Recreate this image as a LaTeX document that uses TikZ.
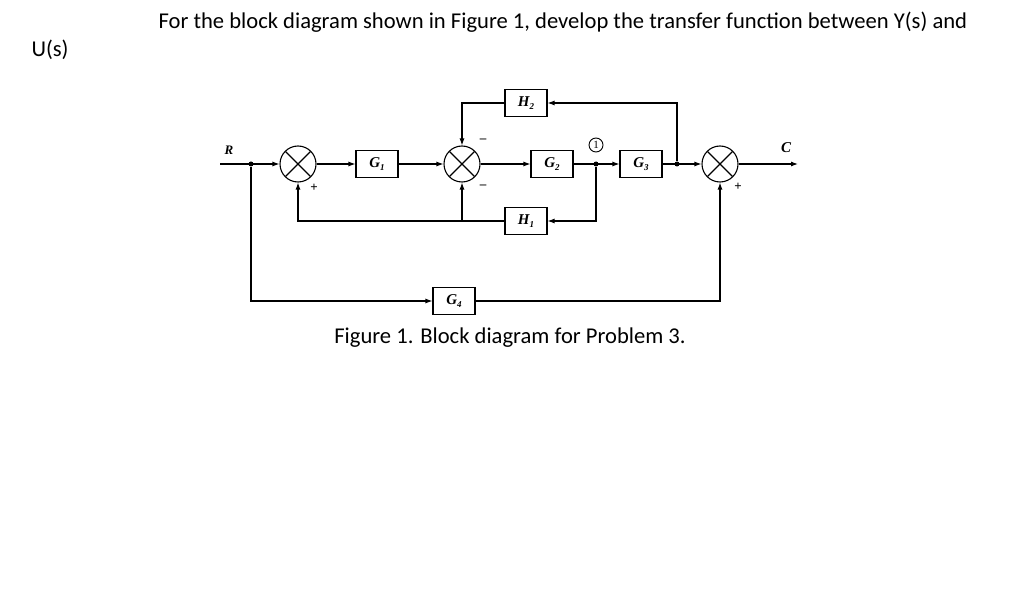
\documentclass[tikz,border=0pt]{standalone}
\usepackage{fontspec}
\setmainfont{Carlito}
\newfontfamily\blk{Liberation Serif}
\usetikzlibrary{arrows.meta}
\newcommand{\bl}[2]{#1\raisebox{-0.35ex}{\fontsize{9}{9}\selectfont #2}}
\begin{document}
\begin{tikzpicture}[x=1pt,y=-1pt,line width=1.1pt,
 blk/.style={draw,minimum width=42pt,minimum height=27pt,inner sep=0pt,font=\blk\bfseries\itshape\fontsize{15}{15}\selectfont},
 sum/.style={draw,circle,minimum size=36pt,inner sep=0pt,path picture={\draw (path picture bounding box.north west)++(5.5pt,-5.5pt) -- ([shift={(-5.5pt,5.5pt)}]path picture bounding box.south east);
   \draw ([shift={(5.5pt,5.5pt)}]path picture bounding box.south west) -- ([shift={(-5.5pt,-5.5pt)}]path picture bounding box.north east);}},
 a/.style={-{Latex[length=7pt,width=5pt]}},
 dot/.style={circle,fill,inner sep=0pt,minimum size=5pt},
 sg/.style={font=\blk\bfseries\fontsize{13}{13}\selectfont,inner sep=0pt},
 txt/.style={font=\fontsize{22.6}{23}\selectfont,inner sep=0pt}]
\useasboundingbox (0,0) rectangle (1024,609);
\node[txt,anchor=base west] (title) at (158,29) {For the block diagram shown in Figure 1, develop the transfer function between Y(s) and};
\node[txt,anchor=base west] (us) at (31,57) {U(s)};
\node[txt,anchor=base] (cap) at (510,343) {Figure 1. Block diagram for Problem 3.};
\coordinate (in) at (220,164);
\node[dot] (d0) at (251,164) {};
\node[sum] (s1) at (298,164) {};
\node[blk] (g1) at (377,164) {\bl{G}{1}};
\node[sum] (s2) at (462,164) {};
\node[blk] (g2) at (552,164) {\bl{G}{2}};
\node[dot] (d1) at (596,164) {};
\node[blk] (g3) at (641,164) {\bl{G}{3}};
\node[dot] (d2) at (677,164) {};
\node[sum] (s3) at (720,164) {};
\coordinate (out) at (798,164);
\node[blk] (h2) at (526,103) {\bl{H}{2}};
\node[blk] (h1) at (526,221) {\bl{H}{1}};
\node[blk] (g4) at (454,301) {\bl{G}{4}};
\coordinate (h2l) at (462,103);
\coordinate (h2r) at (677,103);
\coordinate (h1r) at (596,221);
\coordinate (b1) at (298,221);
\coordinate (b2) at (462,221);
\coordinate (g4l) at (251,301);
\coordinate (g4r) at (720,301);
\draw[a] (in) -- (s1);
\draw[a] (s1) -- (g1);
\draw[a] (g1) -- (s2);
\draw[a] (s2) -- (g2);
\draw[a] (g2) -- (g3);
\draw[a] (g3) -- (s3);
\draw[a] (s3) -- (out);
\draw[a] (d2) -- (h2r) -- (h2);
\draw[a] (h2) -- (h2l) -- (s2);
\draw[a] (d1) -- (h1r) -- (h1);
\draw[a] (h1) -- (b1) -- (s1);
\draw[a] (b2) -- (s2);
\draw[a] (d0) -- (g4l) -- (g4);
\draw[a] (g4) -- (g4r) -- (s3);
\node[font=\blk\bfseries\itshape\fontsize{13}{13}\selectfont] (R) at (229,150) {R};
\node[font=\blk\bfseries\itshape\fontsize{15}{15}\selectfont] (C) at (786,148) {C};
\node[draw,circle,inner sep=0.6pt,minimum size=14pt,line width=0.9pt,font=\blk\fontsize{11}{11}\selectfont] (one) at (596,145) {1};
\node[sg] (p1) at (314,188) {+};
\node[sg] (p3) at (738,187) {+};
\node[sg] (m1) at (483,141) {\textendash};
\node[sg] (m2) at (483,187) {\textendash};
\end{tikzpicture}
\end{document}
